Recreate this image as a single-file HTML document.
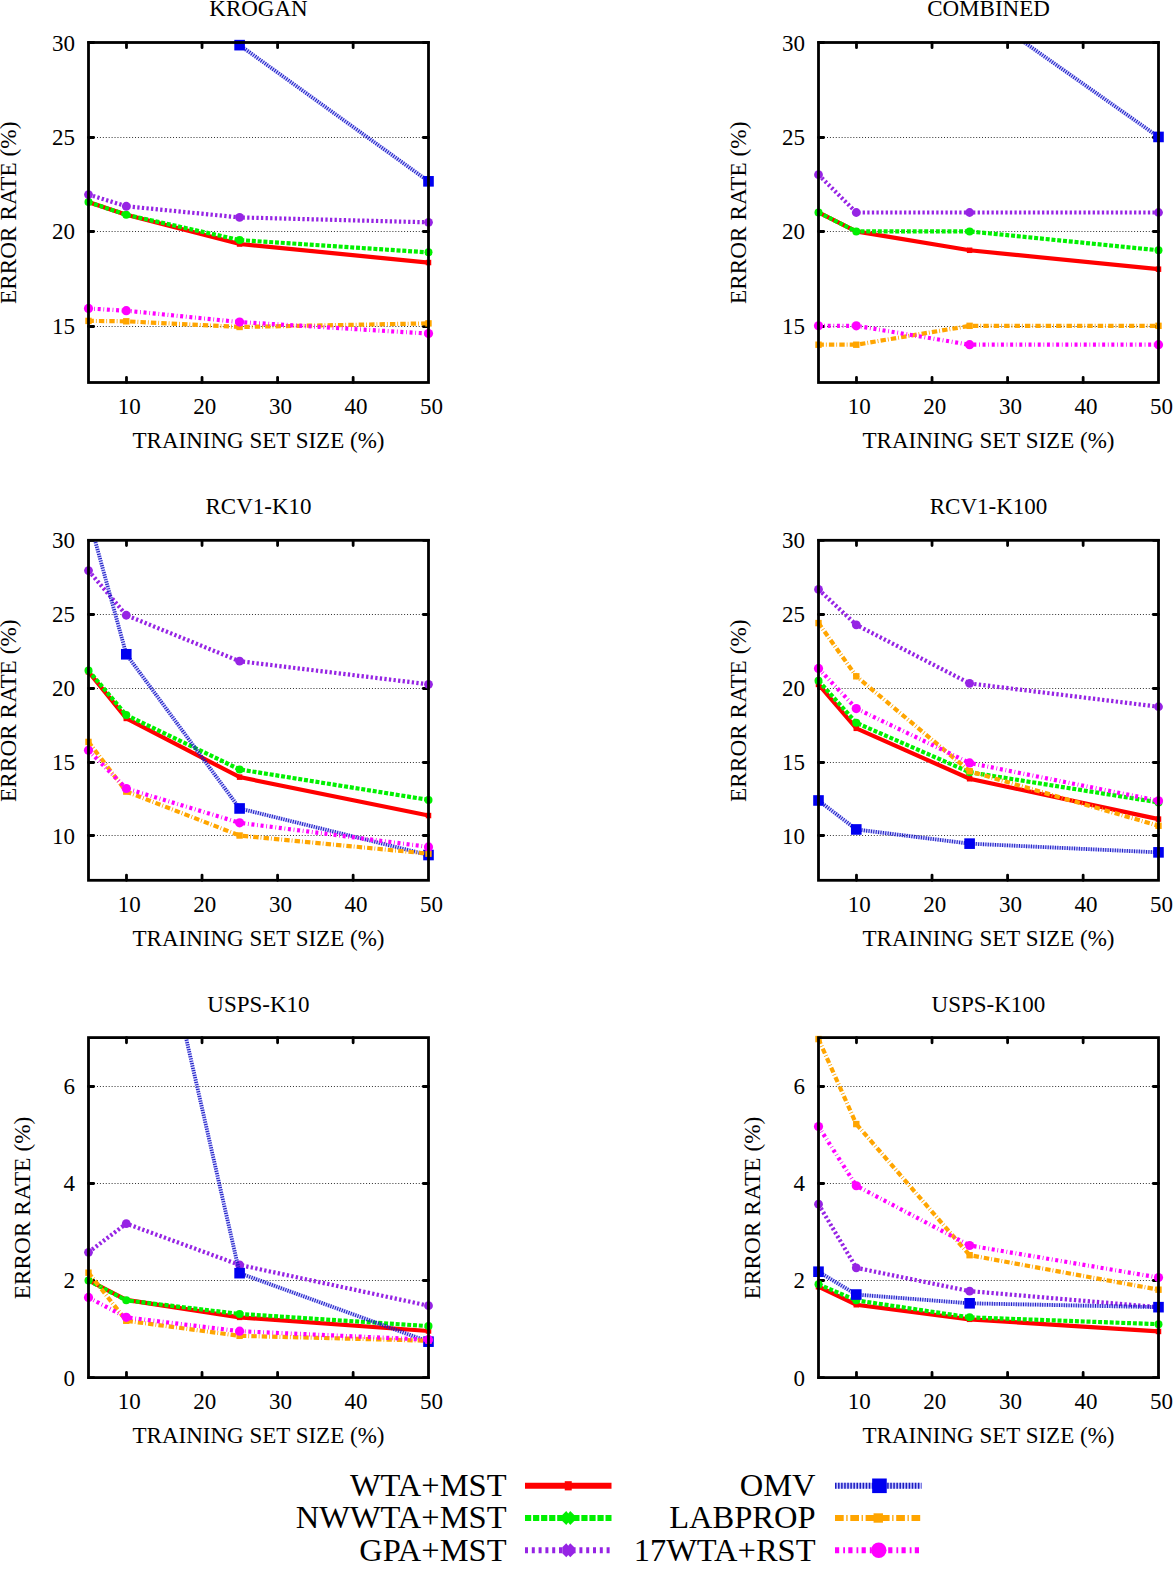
<!DOCTYPE html>
<html><head><meta charset="utf-8"><style>html,body{margin:0;padding:0;background:#fff;width:1175px;height:1572px;overflow:hidden}</style></head><body>
<svg width="1175" height="1572" viewBox="0 0 1175 1572" style="display:block">
<rect width="100%" height="100%" fill="#fff"/>
<defs><clipPath id="c0"><rect x="88.5" y="42.5" width="340" height="340"/></clipPath></defs>
<line x1="88.22" y1="326.5" x2="428.5" y2="326.5" stroke="#333" stroke-width="1" stroke-dasharray="1 1.925"/>
<line x1="88.22" y1="231.5" x2="428.5" y2="231.5" stroke="#333" stroke-width="1" stroke-dasharray="1 1.925"/>
<line x1="88.22" y1="137.5" x2="428.5" y2="137.5" stroke="#333" stroke-width="1" stroke-dasharray="1 1.925"/>
<line x1="88.22" y1="42.5" x2="428.5" y2="42.5" stroke="#333" stroke-width="1" stroke-dasharray="1 1.925"/>
<path d="M126.48 382.5 V377.3 M126.48 42.5 V47.7 M202.03 382.5 V377.3 M202.03 42.5 V47.7 M277.59 382.5 V377.3 M277.59 42.5 V47.7 M353.14 382.5 V377.3 M353.14 42.5 V47.7 M88.5 326.5 H93.7 M428.5 326.5 H423.3 M88.5 231.5 H93.7 M428.5 231.5 H423.3 M88.5 137.5 H93.7 M428.5 137.5 H423.3 M88.5 42.5 H93.7 M428.5 42.5 H423.3" stroke="#000" stroke-width="2.8" stroke-linecap="round" fill="none"/>
<path clip-path="url(#c0)" d="M88.5 202.11 L126.28 214.77 L239.61 244.04 L428.5 262.56" fill="none" stroke="#ff0000" stroke-width="4.2" stroke-linejoin="miter"/>
<rect x="85.75" y="199.36" width="5.5" height="5.5" fill="#ff0000"/>
<rect x="123.53" y="212.02" width="5.5" height="5.5" fill="#ff0000"/>
<rect x="236.86" y="241.29" width="5.5" height="5.5" fill="#ff0000"/>
<rect x="425.75" y="259.81" width="5.5" height="5.5" fill="#ff0000"/>
<path clip-path="url(#c0)" d="M88.5 202.11 L126.28 214.77 L239.61 240.08 L428.5 252.36" fill="none" stroke="#00f000" stroke-width="4.2" stroke-linejoin="miter" stroke-dasharray="4 1.8"/>
<circle cx="88.5" cy="202.11" r="4" fill="#00f000"/>
<circle cx="126.28" cy="214.77" r="4" fill="#00f000"/>
<circle cx="239.61" cy="240.08" r="4" fill="#00f000"/>
<circle cx="428.5" cy="252.36" r="4" fill="#00f000"/>
<path clip-path="url(#c0)" d="M88.5 194.56 L126.28 206.27 L239.61 217.41 L428.5 222.32" fill="none" stroke="#9624e4" stroke-width="4.2" stroke-linejoin="miter" stroke-dasharray="2.3 2.3"/>
<circle cx="88.5" cy="194.56" r="4.4" fill="#9624e4"/>
<circle cx="126.28" cy="206.27" r="4.4" fill="#9624e4"/>
<circle cx="239.61" cy="217.41" r="4.4" fill="#9624e4"/>
<circle cx="428.5" cy="222.32" r="4.4" fill="#9624e4"/>
<path clip-path="url(#c0)" d="M239.61 45.14 L428.5 181.33" fill="none" stroke="#0000ff" stroke-opacity="0.2" stroke-width="3.8000000000000003" stroke-linejoin="miter"/>
<path clip-path="url(#c0)" d="M239.61 45.14 L428.5 181.33" fill="none" stroke="#1c1cc0" stroke-width="3.8000000000000003" stroke-linejoin="miter" stroke-dasharray="1 1.4"/>
<rect x="234.31" y="39.84" width="10.6" height="10.6" fill="#0000f0"/>
<rect x="423.2" y="176.03" width="10.6" height="10.6" fill="#0000f0"/>
<path clip-path="url(#c0)" d="M88.5 320.92 L126.28 321.3 L239.61 326.97 L428.5 323.38" fill="none" stroke="#ffa500" stroke-width="4.2" stroke-linejoin="miter" stroke-dasharray="5.4 2 0.8 2.2"/>
<rect x="85.3" y="317.72" width="6.4" height="6.4" fill="#ffa500"/>
<rect x="123.08" y="318.1" width="6.4" height="6.4" fill="#ffa500"/>
<rect x="236.41" y="323.77" width="6.4" height="6.4" fill="#ffa500"/>
<rect x="425.3" y="320.18" width="6.4" height="6.4" fill="#ffa500"/>
<path clip-path="url(#c0)" d="M88.5 308.46 L126.28 310.72 L239.61 322.06 L428.5 333.58" fill="none" stroke="#ff00ff" stroke-width="4.2" stroke-linejoin="miter" stroke-dasharray="3 2.7 0.8 2.7"/>
<circle cx="88.5" cy="308.46" r="4.6" fill="#ff00ff"/>
<circle cx="126.28" cy="310.72" r="4.6" fill="#ff00ff"/>
<circle cx="239.61" cy="322.06" r="4.6" fill="#ff00ff"/>
<circle cx="428.5" cy="333.58" r="4.6" fill="#ff00ff"/>
<rect x="88.5" y="42.5" width="340" height="340" fill="none" stroke="#000" stroke-width="2.8"/>
<text x="75" y="333.83" text-anchor="end" style="font-family:'Liberation Serif', serif;font-size:23px">15</text>
<text x="75" y="239.39" text-anchor="end" style="font-family:'Liberation Serif', serif;font-size:23px">20</text>
<text x="75" y="144.94" text-anchor="end" style="font-family:'Liberation Serif', serif;font-size:23px">25</text>
<text x="75" y="50.5" text-anchor="end" style="font-family:'Liberation Serif', serif;font-size:23px">30</text>
<text x="129.28" y="414" text-anchor="middle" style="font-family:'Liberation Serif', serif;font-size:23px">10</text>
<text x="204.83" y="414" text-anchor="middle" style="font-family:'Liberation Serif', serif;font-size:23px">20</text>
<text x="280.39" y="414" text-anchor="middle" style="font-family:'Liberation Serif', serif;font-size:23px">30</text>
<text x="355.94" y="414" text-anchor="middle" style="font-family:'Liberation Serif', serif;font-size:23px">40</text>
<text x="431.5" y="414" text-anchor="middle" style="font-family:'Liberation Serif', serif;font-size:23px">50</text>
<text x="258.5" y="447.9" text-anchor="middle" style="font-family:'Liberation Serif', serif;font-size:23px">TRAINING SET SIZE (%)</text>
<text x="258.5" y="16.4" text-anchor="middle" style="font-family:'Liberation Serif', serif;font-size:23px">KROGAN</text>
<text transform="translate(16.1 212.85) rotate(-90)" x="0" y="0" text-anchor="middle" style="font-family:'Liberation Serif', serif;font-size:23.3px">ERROR RATE (%)</text>
<defs><clipPath id="c1"><rect x="818.5" y="42.5" width="340" height="340"/></clipPath></defs>
<line x1="818.23" y1="326.5" x2="1158.5" y2="326.5" stroke="#333" stroke-width="1" stroke-dasharray="1 1.925"/>
<line x1="818.23" y1="231.5" x2="1158.5" y2="231.5" stroke="#333" stroke-width="1" stroke-dasharray="1 1.925"/>
<line x1="818.23" y1="137.5" x2="1158.5" y2="137.5" stroke="#333" stroke-width="1" stroke-dasharray="1 1.925"/>
<line x1="818.23" y1="42.5" x2="1158.5" y2="42.5" stroke="#333" stroke-width="1" stroke-dasharray="1 1.925"/>
<path d="M856.48 382.5 V377.3 M856.48 42.5 V47.7 M932.03 382.5 V377.3 M932.03 42.5 V47.7 M1007.59 382.5 V377.3 M1007.59 42.5 V47.7 M1083.14 382.5 V377.3 M1083.14 42.5 V47.7 M818.5 326.5 H823.7 M1158.5 326.5 H1153.3 M818.5 231.5 H823.7 M1158.5 231.5 H1153.3 M818.5 137.5 H823.7 M1158.5 137.5 H1153.3 M818.5 42.5 H823.7 M1158.5 42.5 H1153.3" stroke="#000" stroke-width="2.8" stroke-linecap="round" fill="none"/>
<path clip-path="url(#c1)" d="M818.5 212.5 L856.28 231.39 L969.61 250.28 L1158.5 269.17" fill="none" stroke="#ff0000" stroke-width="4.2" stroke-linejoin="miter"/>
<rect x="815.75" y="209.75" width="5.5" height="5.5" fill="#ff0000"/>
<rect x="853.53" y="228.64" width="5.5" height="5.5" fill="#ff0000"/>
<rect x="966.86" y="247.53" width="5.5" height="5.5" fill="#ff0000"/>
<rect x="1155.75" y="266.42" width="5.5" height="5.5" fill="#ff0000"/>
<path clip-path="url(#c1)" d="M818.5 212.5 L856.28 231.39 L969.61 231.39 L1158.5 250.28" fill="none" stroke="#00f000" stroke-width="4.2" stroke-linejoin="miter" stroke-dasharray="4 1.8"/>
<circle cx="818.5" cy="212.5" r="4" fill="#00f000"/>
<circle cx="856.28" cy="231.39" r="4" fill="#00f000"/>
<circle cx="969.61" cy="231.39" r="4" fill="#00f000"/>
<circle cx="1158.5" cy="250.28" r="4" fill="#00f000"/>
<path clip-path="url(#c1)" d="M818.5 174.72 L856.28 212.5 L969.61 212.5 L1158.5 212.5" fill="none" stroke="#9624e4" stroke-width="4.2" stroke-linejoin="miter" stroke-dasharray="2.3 2.3"/>
<circle cx="818.5" cy="174.72" r="4.4" fill="#9624e4"/>
<circle cx="856.28" cy="212.5" r="4.4" fill="#9624e4"/>
<circle cx="969.61" cy="212.5" r="4.4" fill="#9624e4"/>
<circle cx="1158.5" cy="212.5" r="4.4" fill="#9624e4"/>
<path clip-path="url(#c1)" d="M969.61 3.78 L1158.5 136.94" fill="none" stroke="#0000ff" stroke-opacity="0.2" stroke-width="3.8000000000000003" stroke-linejoin="miter"/>
<path clip-path="url(#c1)" d="M969.61 3.78 L1158.5 136.94" fill="none" stroke="#1c1cc0" stroke-width="3.8000000000000003" stroke-linejoin="miter" stroke-dasharray="1 1.4"/>
<rect x="1153.2" y="131.64" width="10.6" height="10.6" fill="#0000f0"/>
<path clip-path="url(#c1)" d="M818.5 344.72 L856.28 344.72 L969.61 325.83 L1158.5 325.83" fill="none" stroke="#ffa500" stroke-width="4.2" stroke-linejoin="miter" stroke-dasharray="5.4 2 0.8 2.2"/>
<rect x="815.3" y="341.52" width="6.4" height="6.4" fill="#ffa500"/>
<rect x="853.08" y="341.52" width="6.4" height="6.4" fill="#ffa500"/>
<rect x="966.41" y="322.63" width="6.4" height="6.4" fill="#ffa500"/>
<rect x="1155.3" y="322.63" width="6.4" height="6.4" fill="#ffa500"/>
<path clip-path="url(#c1)" d="M818.5 325.83 L856.28 325.83 L969.61 344.72 L1158.5 344.72" fill="none" stroke="#ff00ff" stroke-width="4.2" stroke-linejoin="miter" stroke-dasharray="3 2.7 0.8 2.7"/>
<circle cx="818.5" cy="325.83" r="4.6" fill="#ff00ff"/>
<circle cx="856.28" cy="325.83" r="4.6" fill="#ff00ff"/>
<circle cx="969.61" cy="344.72" r="4.6" fill="#ff00ff"/>
<circle cx="1158.5" cy="344.72" r="4.6" fill="#ff00ff"/>
<rect x="818.5" y="42.5" width="340" height="340" fill="none" stroke="#000" stroke-width="2.8"/>
<text x="805" y="333.83" text-anchor="end" style="font-family:'Liberation Serif', serif;font-size:23px">15</text>
<text x="805" y="239.39" text-anchor="end" style="font-family:'Liberation Serif', serif;font-size:23px">20</text>
<text x="805" y="144.94" text-anchor="end" style="font-family:'Liberation Serif', serif;font-size:23px">25</text>
<text x="805" y="50.5" text-anchor="end" style="font-family:'Liberation Serif', serif;font-size:23px">30</text>
<text x="859.28" y="414" text-anchor="middle" style="font-family:'Liberation Serif', serif;font-size:23px">10</text>
<text x="934.83" y="414" text-anchor="middle" style="font-family:'Liberation Serif', serif;font-size:23px">20</text>
<text x="1010.39" y="414" text-anchor="middle" style="font-family:'Liberation Serif', serif;font-size:23px">30</text>
<text x="1085.94" y="414" text-anchor="middle" style="font-family:'Liberation Serif', serif;font-size:23px">40</text>
<text x="1161.5" y="414" text-anchor="middle" style="font-family:'Liberation Serif', serif;font-size:23px">50</text>
<text x="988.5" y="447.9" text-anchor="middle" style="font-family:'Liberation Serif', serif;font-size:23px">TRAINING SET SIZE (%)</text>
<text x="988.5" y="16.4" text-anchor="middle" style="font-family:'Liberation Serif', serif;font-size:23px">COMBINED</text>
<text transform="translate(746.1 212.85) rotate(-90)" x="0" y="0" text-anchor="middle" style="font-family:'Liberation Serif', serif;font-size:23.3px">ERROR RATE (%)</text>
<defs><clipPath id="c2"><rect x="88.5" y="540.3" width="340" height="340"/></clipPath></defs>
<line x1="88.22" y1="835.5" x2="428.5" y2="835.5" stroke="#333" stroke-width="1" stroke-dasharray="1 1.925"/>
<line x1="88.22" y1="762.5" x2="428.5" y2="762.5" stroke="#333" stroke-width="1" stroke-dasharray="1 1.925"/>
<line x1="88.22" y1="688.5" x2="428.5" y2="688.5" stroke="#333" stroke-width="1" stroke-dasharray="1 1.925"/>
<line x1="88.22" y1="614.5" x2="428.5" y2="614.5" stroke="#333" stroke-width="1" stroke-dasharray="1 1.925"/>
<line x1="88.22" y1="540.3" x2="428.5" y2="540.3" stroke="#333" stroke-width="1" stroke-dasharray="1 1.925"/>
<path d="M126.48 880.3 V875.1 M126.48 540.3 V545.5 M202.03 880.3 V875.1 M202.03 540.3 V545.5 M277.59 880.3 V875.1 M277.59 540.3 V545.5 M353.14 880.3 V875.1 M353.14 540.3 V545.5 M88.5 835.5 H93.7 M428.5 835.5 H423.3 M88.5 762.5 H93.7 M428.5 762.5 H423.3 M88.5 688.5 H93.7 M428.5 688.5 H423.3 M88.5 614.5 H93.7 M428.5 614.5 H423.3 M88.5 540.3 H93.7 M428.5 540.3 H423.3" stroke="#000" stroke-width="2.8" stroke-linecap="round" fill="none"/>
<path clip-path="url(#c2)" d="M88.5 671.87 L126.28 718.43 L239.61 777.12 L428.5 815.55" fill="none" stroke="#ff0000" stroke-width="4.2" stroke-linejoin="miter"/>
<rect x="85.75" y="669.12" width="5.5" height="5.5" fill="#ff0000"/>
<rect x="123.53" y="715.68" width="5.5" height="5.5" fill="#ff0000"/>
<rect x="236.86" y="774.37" width="5.5" height="5.5" fill="#ff0000"/>
<rect x="425.75" y="812.8" width="5.5" height="5.5" fill="#ff0000"/>
<path clip-path="url(#c2)" d="M88.5 670.39 L126.28 715.03 L239.61 769.43 L428.5 799.88" fill="none" stroke="#00f000" stroke-width="4.2" stroke-linejoin="miter" stroke-dasharray="4 1.8"/>
<circle cx="88.5" cy="670.39" r="4" fill="#00f000"/>
<circle cx="126.28" cy="715.03" r="4" fill="#00f000"/>
<circle cx="239.61" cy="769.43" r="4" fill="#00f000"/>
<circle cx="428.5" cy="799.88" r="4" fill="#00f000"/>
<path clip-path="url(#c2)" d="M88.5 570.6 L126.28 615.25 L239.61 661.22 L428.5 684.28" fill="none" stroke="#9624e4" stroke-width="4.2" stroke-linejoin="miter" stroke-dasharray="2.3 2.3"/>
<circle cx="88.5" cy="570.6" r="4.4" fill="#9624e4"/>
<circle cx="126.28" cy="615.25" r="4.4" fill="#9624e4"/>
<circle cx="239.61" cy="661.22" r="4.4" fill="#9624e4"/>
<circle cx="428.5" cy="684.28" r="4.4" fill="#9624e4"/>
<path clip-path="url(#c2)" d="M88.5 516.65 L126.28 654.27 L239.61 808.46 L428.5 855.02" fill="none" stroke="#0000ff" stroke-opacity="0.2" stroke-width="3.8000000000000003" stroke-linejoin="miter"/>
<path clip-path="url(#c2)" d="M88.5 516.65 L126.28 654.27 L239.61 808.46 L428.5 855.02" fill="none" stroke="#1c1cc0" stroke-width="3.8000000000000003" stroke-linejoin="miter" stroke-dasharray="1 1.4"/>
<rect x="120.98" y="648.97" width="10.6" height="10.6" fill="#0000f0"/>
<rect x="234.31" y="803.16" width="10.6" height="10.6" fill="#0000f0"/>
<rect x="423.2" y="849.72" width="10.6" height="10.6" fill="#0000f0"/>
<path clip-path="url(#c2)" d="M88.5 741.93 L126.28 791.6 L239.61 835.51 L428.5 853.69" fill="none" stroke="#ffa500" stroke-width="4.2" stroke-linejoin="miter" stroke-dasharray="5.4 2 0.8 2.2"/>
<rect x="85.3" y="738.73" width="6.4" height="6.4" fill="#ffa500"/>
<rect x="123.08" y="788.4" width="6.4" height="6.4" fill="#ffa500"/>
<rect x="236.41" y="832.31" width="6.4" height="6.4" fill="#ffa500"/>
<rect x="425.3" y="850.49" width="6.4" height="6.4" fill="#ffa500"/>
<path clip-path="url(#c2)" d="M88.5 750.36 L126.28 788.5 L239.61 822.8 L428.5 846.89" fill="none" stroke="#ff00ff" stroke-width="4.2" stroke-linejoin="miter" stroke-dasharray="3 2.7 0.8 2.7"/>
<circle cx="88.5" cy="750.36" r="4.6" fill="#ff00ff"/>
<circle cx="126.28" cy="788.5" r="4.6" fill="#ff00ff"/>
<circle cx="239.61" cy="822.8" r="4.6" fill="#ff00ff"/>
<circle cx="428.5" cy="846.89" r="4.6" fill="#ff00ff"/>
<rect x="88.5" y="540.3" width="340" height="340" fill="none" stroke="#000" stroke-width="2.8"/>
<text x="75" y="843.95" text-anchor="end" style="font-family:'Liberation Serif', serif;font-size:23px">10</text>
<text x="75" y="770.04" text-anchor="end" style="font-family:'Liberation Serif', serif;font-size:23px">15</text>
<text x="75" y="696.13" text-anchor="end" style="font-family:'Liberation Serif', serif;font-size:23px">20</text>
<text x="75" y="622.21" text-anchor="end" style="font-family:'Liberation Serif', serif;font-size:23px">25</text>
<text x="75" y="548.3" text-anchor="end" style="font-family:'Liberation Serif', serif;font-size:23px">30</text>
<text x="129.28" y="911.8" text-anchor="middle" style="font-family:'Liberation Serif', serif;font-size:23px">10</text>
<text x="204.83" y="911.8" text-anchor="middle" style="font-family:'Liberation Serif', serif;font-size:23px">20</text>
<text x="280.39" y="911.8" text-anchor="middle" style="font-family:'Liberation Serif', serif;font-size:23px">30</text>
<text x="355.94" y="911.8" text-anchor="middle" style="font-family:'Liberation Serif', serif;font-size:23px">40</text>
<text x="431.5" y="911.8" text-anchor="middle" style="font-family:'Liberation Serif', serif;font-size:23px">50</text>
<text x="258.5" y="945.7" text-anchor="middle" style="font-family:'Liberation Serif', serif;font-size:23px">TRAINING SET SIZE (%)</text>
<text x="258.5" y="514.2" text-anchor="middle" style="font-family:'Liberation Serif', serif;font-size:23px">RCV1-K10</text>
<text transform="translate(16.1 710.65) rotate(-90)" x="0" y="0" text-anchor="middle" style="font-family:'Liberation Serif', serif;font-size:23.3px">ERROR RATE (%)</text>
<defs><clipPath id="c3"><rect x="818.5" y="540.3" width="340" height="340"/></clipPath></defs>
<line x1="818.23" y1="835.5" x2="1158.5" y2="835.5" stroke="#333" stroke-width="1" stroke-dasharray="1 1.925"/>
<line x1="818.23" y1="762.5" x2="1158.5" y2="762.5" stroke="#333" stroke-width="1" stroke-dasharray="1 1.925"/>
<line x1="818.23" y1="688.5" x2="1158.5" y2="688.5" stroke="#333" stroke-width="1" stroke-dasharray="1 1.925"/>
<line x1="818.23" y1="614.5" x2="1158.5" y2="614.5" stroke="#333" stroke-width="1" stroke-dasharray="1 1.925"/>
<line x1="818.23" y1="540.3" x2="1158.5" y2="540.3" stroke="#333" stroke-width="1" stroke-dasharray="1 1.925"/>
<path d="M856.48 880.3 V875.1 M856.48 540.3 V545.5 M932.03 880.3 V875.1 M932.03 540.3 V545.5 M1007.59 880.3 V875.1 M1007.59 540.3 V545.5 M1083.14 880.3 V875.1 M1083.14 540.3 V545.5 M818.5 835.5 H823.7 M1158.5 835.5 H1153.3 M818.5 762.5 H823.7 M1158.5 762.5 H1153.3 M818.5 688.5 H823.7 M1158.5 688.5 H1153.3 M818.5 614.5 H823.7 M1158.5 614.5 H1153.3 M818.5 540.3 H823.7 M1158.5 540.3 H1153.3" stroke="#000" stroke-width="2.8" stroke-linecap="round" fill="none"/>
<path clip-path="url(#c3)" d="M818.5 684.43 L856.28 728.33 L969.61 778.74 L1158.5 819.1" fill="none" stroke="#ff0000" stroke-width="4.2" stroke-linejoin="miter"/>
<rect x="815.75" y="681.68" width="5.5" height="5.5" fill="#ff0000"/>
<rect x="853.53" y="725.58" width="5.5" height="5.5" fill="#ff0000"/>
<rect x="966.86" y="775.99" width="5.5" height="5.5" fill="#ff0000"/>
<rect x="1155.75" y="816.35" width="5.5" height="5.5" fill="#ff0000"/>
<path clip-path="url(#c3)" d="M818.5 680.73 L856.28 722.87 L969.61 772.24 L1158.5 802.4" fill="none" stroke="#00f000" stroke-width="4.2" stroke-linejoin="miter" stroke-dasharray="4 1.8"/>
<circle cx="818.5" cy="680.73" r="4" fill="#00f000"/>
<circle cx="856.28" cy="722.87" r="4" fill="#00f000"/>
<circle cx="969.61" cy="772.24" r="4" fill="#00f000"/>
<circle cx="1158.5" cy="802.4" r="4" fill="#00f000"/>
<path clip-path="url(#c3)" d="M818.5 589.38 L856.28 624.86 L969.61 683.4 L1158.5 706.75" fill="none" stroke="#9624e4" stroke-width="4.2" stroke-linejoin="miter" stroke-dasharray="2.3 2.3"/>
<circle cx="818.5" cy="589.38" r="4.4" fill="#9624e4"/>
<circle cx="856.28" cy="624.86" r="4.4" fill="#9624e4"/>
<circle cx="969.61" cy="683.4" r="4.4" fill="#9624e4"/>
<circle cx="1158.5" cy="706.75" r="4.4" fill="#9624e4"/>
<path clip-path="url(#c3)" d="M818.5 800.47 L856.28 829.45 L969.61 843.64 L1158.5 852.36" fill="none" stroke="#0000ff" stroke-opacity="0.2" stroke-width="3.8000000000000003" stroke-linejoin="miter"/>
<path clip-path="url(#c3)" d="M818.5 800.47 L856.28 829.45 L969.61 843.64 L1158.5 852.36" fill="none" stroke="#1c1cc0" stroke-width="3.8000000000000003" stroke-linejoin="miter" stroke-dasharray="1 1.4"/>
<rect x="813.2" y="795.17" width="10.6" height="10.6" fill="#0000f0"/>
<rect x="850.98" y="824.15" width="10.6" height="10.6" fill="#0000f0"/>
<rect x="964.31" y="838.34" width="10.6" height="10.6" fill="#0000f0"/>
<rect x="1153.2" y="847.06" width="10.6" height="10.6" fill="#0000f0"/>
<path clip-path="url(#c3)" d="M818.5 623.08 L856.28 676.3 L969.61 771.2 L1158.5 825.75" fill="none" stroke="#ffa500" stroke-width="4.2" stroke-linejoin="miter" stroke-dasharray="5.4 2 0.8 2.2"/>
<rect x="815.3" y="619.88" width="6.4" height="6.4" fill="#ffa500"/>
<rect x="853.08" y="673.1" width="6.4" height="6.4" fill="#ffa500"/>
<rect x="966.41" y="768" width="6.4" height="6.4" fill="#ffa500"/>
<rect x="1155.3" y="822.55" width="6.4" height="6.4" fill="#ffa500"/>
<path clip-path="url(#c3)" d="M818.5 668.47 L856.28 708.53 L969.61 762.93 L1158.5 800.77" fill="none" stroke="#ff00ff" stroke-width="4.2" stroke-linejoin="miter" stroke-dasharray="3 2.7 0.8 2.7"/>
<circle cx="818.5" cy="668.47" r="4.6" fill="#ff00ff"/>
<circle cx="856.28" cy="708.53" r="4.6" fill="#ff00ff"/>
<circle cx="969.61" cy="762.93" r="4.6" fill="#ff00ff"/>
<circle cx="1158.5" cy="800.77" r="4.6" fill="#ff00ff"/>
<rect x="818.5" y="540.3" width="340" height="340" fill="none" stroke="#000" stroke-width="2.8"/>
<text x="805" y="843.95" text-anchor="end" style="font-family:'Liberation Serif', serif;font-size:23px">10</text>
<text x="805" y="770.04" text-anchor="end" style="font-family:'Liberation Serif', serif;font-size:23px">15</text>
<text x="805" y="696.13" text-anchor="end" style="font-family:'Liberation Serif', serif;font-size:23px">20</text>
<text x="805" y="622.21" text-anchor="end" style="font-family:'Liberation Serif', serif;font-size:23px">25</text>
<text x="805" y="548.3" text-anchor="end" style="font-family:'Liberation Serif', serif;font-size:23px">30</text>
<text x="859.28" y="911.8" text-anchor="middle" style="font-family:'Liberation Serif', serif;font-size:23px">10</text>
<text x="934.83" y="911.8" text-anchor="middle" style="font-family:'Liberation Serif', serif;font-size:23px">20</text>
<text x="1010.39" y="911.8" text-anchor="middle" style="font-family:'Liberation Serif', serif;font-size:23px">30</text>
<text x="1085.94" y="911.8" text-anchor="middle" style="font-family:'Liberation Serif', serif;font-size:23px">40</text>
<text x="1161.5" y="911.8" text-anchor="middle" style="font-family:'Liberation Serif', serif;font-size:23px">50</text>
<text x="988.5" y="945.7" text-anchor="middle" style="font-family:'Liberation Serif', serif;font-size:23px">TRAINING SET SIZE (%)</text>
<text x="988.5" y="514.2" text-anchor="middle" style="font-family:'Liberation Serif', serif;font-size:23px">RCV1-K100</text>
<text transform="translate(746.1 710.65) rotate(-90)" x="0" y="0" text-anchor="middle" style="font-family:'Liberation Serif', serif;font-size:23.3px">ERROR RATE (%)</text>
<defs><clipPath id="c4"><rect x="88.5" y="1037.6" width="340" height="340"/></clipPath></defs>
<line x1="88.22" y1="1377.6" x2="428.5" y2="1377.6" stroke="#333" stroke-width="1" stroke-dasharray="1 1.925"/>
<line x1="88.22" y1="1280.5" x2="428.5" y2="1280.5" stroke="#333" stroke-width="1" stroke-dasharray="1 1.925"/>
<line x1="88.22" y1="1183.5" x2="428.5" y2="1183.5" stroke="#333" stroke-width="1" stroke-dasharray="1 1.925"/>
<line x1="88.22" y1="1086.5" x2="428.5" y2="1086.5" stroke="#333" stroke-width="1" stroke-dasharray="1 1.925"/>
<path d="M126.48 1377.6 V1372.4 M126.48 1037.6 V1042.8 M202.03 1377.6 V1372.4 M202.03 1037.6 V1042.8 M277.59 1377.6 V1372.4 M277.59 1037.6 V1042.8 M353.14 1377.6 V1372.4 M353.14 1037.6 V1042.8 M88.5 1377.6 H93.7 M428.5 1377.6 H423.3 M88.5 1280.5 H93.7 M428.5 1280.5 H423.3 M88.5 1183.5 H93.7 M428.5 1183.5 H423.3 M88.5 1086.5 H93.7 M428.5 1086.5 H423.3" stroke="#000" stroke-width="2.8" stroke-linecap="round" fill="none"/>
<path clip-path="url(#c4)" d="M88.5 1280.46 L126.28 1299.89 L239.61 1317.37 L428.5 1330.97" fill="none" stroke="#ff0000" stroke-width="4.2" stroke-linejoin="miter"/>
<rect x="85.75" y="1277.71" width="5.5" height="5.5" fill="#ff0000"/>
<rect x="123.53" y="1297.14" width="5.5" height="5.5" fill="#ff0000"/>
<rect x="236.86" y="1314.62" width="5.5" height="5.5" fill="#ff0000"/>
<rect x="425.75" y="1328.22" width="5.5" height="5.5" fill="#ff0000"/>
<path clip-path="url(#c4)" d="M88.5 1280.46 L126.28 1300.37 L239.61 1313.97 L428.5 1326.11" fill="none" stroke="#00f000" stroke-width="4.2" stroke-linejoin="miter" stroke-dasharray="4 1.8"/>
<circle cx="88.5" cy="1280.46" r="4" fill="#00f000"/>
<circle cx="126.28" cy="1300.37" r="4" fill="#00f000"/>
<circle cx="239.61" cy="1313.97" r="4" fill="#00f000"/>
<circle cx="428.5" cy="1326.11" r="4" fill="#00f000"/>
<path clip-path="url(#c4)" d="M88.5 1252.29 L126.28 1223.63 L239.61 1264.91 L428.5 1305.71" fill="none" stroke="#9624e4" stroke-width="4.2" stroke-linejoin="miter" stroke-dasharray="2.3 2.3"/>
<circle cx="88.5" cy="1252.29" r="4.4" fill="#9624e4"/>
<circle cx="126.28" cy="1223.63" r="4.4" fill="#9624e4"/>
<circle cx="239.61" cy="1264.91" r="4.4" fill="#9624e4"/>
<circle cx="428.5" cy="1305.71" r="4.4" fill="#9624e4"/>
<path clip-path="url(#c4)" d="M126.28 775.31 L239.61 1273.17 L428.5 1341.66" fill="none" stroke="#0000ff" stroke-opacity="0.2" stroke-width="3.8000000000000003" stroke-linejoin="miter"/>
<path clip-path="url(#c4)" d="M126.28 775.31 L239.61 1273.17 L428.5 1341.66" fill="none" stroke="#1c1cc0" stroke-width="3.8000000000000003" stroke-linejoin="miter" stroke-dasharray="1 1.4"/>
<rect x="234.31" y="1267.87" width="10.6" height="10.6" fill="#0000f0"/>
<rect x="423.2" y="1336.36" width="10.6" height="10.6" fill="#0000f0"/>
<path clip-path="url(#c4)" d="M88.5 1272.69 L126.28 1320.77 L239.61 1335.83 L428.5 1340.69" fill="none" stroke="#ffa500" stroke-width="4.2" stroke-linejoin="miter" stroke-dasharray="5.4 2 0.8 2.2"/>
<rect x="85.3" y="1269.49" width="6.4" height="6.4" fill="#ffa500"/>
<rect x="123.08" y="1317.57" width="6.4" height="6.4" fill="#ffa500"/>
<rect x="236.41" y="1332.63" width="6.4" height="6.4" fill="#ffa500"/>
<rect x="425.3" y="1337.49" width="6.4" height="6.4" fill="#ffa500"/>
<path clip-path="url(#c4)" d="M88.5 1297.46 L126.28 1317.37 L239.61 1331.21 L428.5 1339.71" fill="none" stroke="#ff00ff" stroke-width="4.2" stroke-linejoin="miter" stroke-dasharray="3 2.7 0.8 2.7"/>
<circle cx="88.5" cy="1297.46" r="4.6" fill="#ff00ff"/>
<circle cx="126.28" cy="1317.37" r="4.6" fill="#ff00ff"/>
<circle cx="239.61" cy="1331.21" r="4.6" fill="#ff00ff"/>
<circle cx="428.5" cy="1339.71" r="4.6" fill="#ff00ff"/>
<rect x="88.5" y="1037.6" width="340" height="340" fill="none" stroke="#000" stroke-width="2.8"/>
<text x="75" y="1385.6" text-anchor="end" style="font-family:'Liberation Serif', serif;font-size:23px">0</text>
<text x="75" y="1288.46" text-anchor="end" style="font-family:'Liberation Serif', serif;font-size:23px">2</text>
<text x="75" y="1191.31" text-anchor="end" style="font-family:'Liberation Serif', serif;font-size:23px">4</text>
<text x="75" y="1094.17" text-anchor="end" style="font-family:'Liberation Serif', serif;font-size:23px">6</text>
<text x="129.28" y="1409.1" text-anchor="middle" style="font-family:'Liberation Serif', serif;font-size:23px">10</text>
<text x="204.83" y="1409.1" text-anchor="middle" style="font-family:'Liberation Serif', serif;font-size:23px">20</text>
<text x="280.39" y="1409.1" text-anchor="middle" style="font-family:'Liberation Serif', serif;font-size:23px">30</text>
<text x="355.94" y="1409.1" text-anchor="middle" style="font-family:'Liberation Serif', serif;font-size:23px">40</text>
<text x="431.5" y="1409.1" text-anchor="middle" style="font-family:'Liberation Serif', serif;font-size:23px">50</text>
<text x="258.5" y="1443" text-anchor="middle" style="font-family:'Liberation Serif', serif;font-size:23px">TRAINING SET SIZE (%)</text>
<text x="258.5" y="1011.5" text-anchor="middle" style="font-family:'Liberation Serif', serif;font-size:23px">USPS-K10</text>
<text transform="translate(29.7 1207.95) rotate(-90)" x="0" y="0" text-anchor="middle" style="font-family:'Liberation Serif', serif;font-size:23.3px">ERROR RATE (%)</text>
<defs><clipPath id="c5"><rect x="818.5" y="1037.6" width="340" height="340"/></clipPath></defs>
<line x1="818.23" y1="1377.6" x2="1158.5" y2="1377.6" stroke="#333" stroke-width="1" stroke-dasharray="1 1.925"/>
<line x1="818.23" y1="1280.5" x2="1158.5" y2="1280.5" stroke="#333" stroke-width="1" stroke-dasharray="1 1.925"/>
<line x1="818.23" y1="1183.5" x2="1158.5" y2="1183.5" stroke="#333" stroke-width="1" stroke-dasharray="1 1.925"/>
<line x1="818.23" y1="1086.5" x2="1158.5" y2="1086.5" stroke="#333" stroke-width="1" stroke-dasharray="1 1.925"/>
<path d="M856.48 1377.6 V1372.4 M856.48 1037.6 V1042.8 M932.03 1377.6 V1372.4 M932.03 1037.6 V1042.8 M1007.59 1377.6 V1372.4 M1007.59 1037.6 V1042.8 M1083.14 1377.6 V1372.4 M1083.14 1037.6 V1042.8 M818.5 1377.6 H823.7 M1158.5 1377.6 H1153.3 M818.5 1280.5 H823.7 M1158.5 1280.5 H1153.3 M818.5 1183.5 H823.7 M1158.5 1183.5 H1153.3 M818.5 1086.5 H823.7 M1158.5 1086.5 H1153.3" stroke="#000" stroke-width="2.8" stroke-linecap="round" fill="none"/>
<path clip-path="url(#c5)" d="M818.5 1286.77 L856.28 1304.74 L969.61 1319.31 L1158.5 1331.46" fill="none" stroke="#ff0000" stroke-width="4.2" stroke-linejoin="miter"/>
<rect x="815.75" y="1284.02" width="5.5" height="5.5" fill="#ff0000"/>
<rect x="853.53" y="1301.99" width="5.5" height="5.5" fill="#ff0000"/>
<rect x="966.86" y="1316.56" width="5.5" height="5.5" fill="#ff0000"/>
<rect x="1155.75" y="1328.71" width="5.5" height="5.5" fill="#ff0000"/>
<path clip-path="url(#c5)" d="M818.5 1284.34 L856.28 1300.37 L969.61 1317.37 L1158.5 1324.17" fill="none" stroke="#00f000" stroke-width="4.2" stroke-linejoin="miter" stroke-dasharray="4 1.8"/>
<circle cx="818.5" cy="1284.34" r="4" fill="#00f000"/>
<circle cx="856.28" cy="1300.37" r="4" fill="#00f000"/>
<circle cx="969.61" cy="1317.37" r="4" fill="#00f000"/>
<circle cx="1158.5" cy="1324.17" r="4" fill="#00f000"/>
<path clip-path="url(#c5)" d="M818.5 1204.2 L856.28 1267.83 L969.61 1291.14 L1158.5 1307.17" fill="none" stroke="#9624e4" stroke-width="4.2" stroke-linejoin="miter" stroke-dasharray="2.3 2.3"/>
<circle cx="818.5" cy="1204.2" r="4.4" fill="#9624e4"/>
<circle cx="856.28" cy="1267.83" r="4.4" fill="#9624e4"/>
<circle cx="969.61" cy="1291.14" r="4.4" fill="#9624e4"/>
<circle cx="1158.5" cy="1307.17" r="4.4" fill="#9624e4"/>
<path clip-path="url(#c5)" d="M818.5 1271.71 L856.28 1294.54 L969.61 1303.29 L1158.5 1307.17" fill="none" stroke="#0000ff" stroke-opacity="0.2" stroke-width="3.8000000000000003" stroke-linejoin="miter"/>
<path clip-path="url(#c5)" d="M818.5 1271.71 L856.28 1294.54 L969.61 1303.29 L1158.5 1307.17" fill="none" stroke="#1c1cc0" stroke-width="3.8000000000000003" stroke-linejoin="miter" stroke-dasharray="1 1.4"/>
<rect x="813.2" y="1266.41" width="10.6" height="10.6" fill="#0000f0"/>
<rect x="850.98" y="1289.24" width="10.6" height="10.6" fill="#0000f0"/>
<rect x="964.31" y="1297.99" width="10.6" height="10.6" fill="#0000f0"/>
<rect x="1153.2" y="1301.87" width="10.6" height="10.6" fill="#0000f0"/>
<path clip-path="url(#c5)" d="M818.5 1039.06 L856.28 1124.06 L969.61 1255.2 L1158.5 1289.69" fill="none" stroke="#ffa500" stroke-width="4.2" stroke-linejoin="miter" stroke-dasharray="5.4 2 0.8 2.2"/>
<rect x="815.3" y="1035.86" width="6.4" height="6.4" fill="#ffa500"/>
<rect x="853.08" y="1120.86" width="6.4" height="6.4" fill="#ffa500"/>
<rect x="966.41" y="1252" width="6.4" height="6.4" fill="#ffa500"/>
<rect x="1155.3" y="1286.49" width="6.4" height="6.4" fill="#ffa500"/>
<path clip-path="url(#c5)" d="M818.5 1126.49 L856.28 1185.74 L969.61 1245.49 L1158.5 1277.54" fill="none" stroke="#ff00ff" stroke-width="4.2" stroke-linejoin="miter" stroke-dasharray="3 2.7 0.8 2.7"/>
<circle cx="818.5" cy="1126.49" r="4.6" fill="#ff00ff"/>
<circle cx="856.28" cy="1185.74" r="4.6" fill="#ff00ff"/>
<circle cx="969.61" cy="1245.49" r="4.6" fill="#ff00ff"/>
<circle cx="1158.5" cy="1277.54" r="4.6" fill="#ff00ff"/>
<rect x="818.5" y="1037.6" width="340" height="340" fill="none" stroke="#000" stroke-width="2.8"/>
<text x="805" y="1385.6" text-anchor="end" style="font-family:'Liberation Serif', serif;font-size:23px">0</text>
<text x="805" y="1288.46" text-anchor="end" style="font-family:'Liberation Serif', serif;font-size:23px">2</text>
<text x="805" y="1191.31" text-anchor="end" style="font-family:'Liberation Serif', serif;font-size:23px">4</text>
<text x="805" y="1094.17" text-anchor="end" style="font-family:'Liberation Serif', serif;font-size:23px">6</text>
<text x="859.28" y="1409.1" text-anchor="middle" style="font-family:'Liberation Serif', serif;font-size:23px">10</text>
<text x="934.83" y="1409.1" text-anchor="middle" style="font-family:'Liberation Serif', serif;font-size:23px">20</text>
<text x="1010.39" y="1409.1" text-anchor="middle" style="font-family:'Liberation Serif', serif;font-size:23px">30</text>
<text x="1085.94" y="1409.1" text-anchor="middle" style="font-family:'Liberation Serif', serif;font-size:23px">40</text>
<text x="1161.5" y="1409.1" text-anchor="middle" style="font-family:'Liberation Serif', serif;font-size:23px">50</text>
<text x="988.5" y="1443" text-anchor="middle" style="font-family:'Liberation Serif', serif;font-size:23px">TRAINING SET SIZE (%)</text>
<text x="988.5" y="1011.5" text-anchor="middle" style="font-family:'Liberation Serif', serif;font-size:23px">USPS-K100</text>
<text transform="translate(759.7 1207.95) rotate(-90)" x="0" y="0" text-anchor="middle" style="font-family:'Liberation Serif', serif;font-size:23.3px">ERROR RATE (%)</text>
<text x="506.5" y="1496.1" text-anchor="end" style="font-family:'Liberation Serif', serif;font-size:32.5px">WTA+MST</text>
<line x1="525" y1="1485.8" x2="611.5" y2="1485.8" stroke="#ff0000" stroke-width="6"/>
<rect x="564.75" y="1481.2" width="7" height="9.2" fill="#ff0000"/>
<text x="506.5" y="1528.3" text-anchor="end" style="font-family:'Liberation Serif', serif;font-size:32.5px">NWWTA+MST</text>
<line x1="525" y1="1518" x2="611.5" y2="1518" stroke="#00f000" stroke-width="6" stroke-dasharray="6.2 1.85"/>
<path d="M562.25 1515 L566.25 1511 L568.25 1513.4 L570.25 1511 L574.25 1515 L574.25 1521 L570.25 1525 L568.25 1522.6 L566.25 1525 L562.25 1521Z" fill="#00f000"/>
<text x="506.5" y="1560.6" text-anchor="end" style="font-family:'Liberation Serif', serif;font-size:32.5px">GPA+MST</text>
<line x1="525" y1="1550.3" x2="611.5" y2="1550.3" stroke="#9624e4" stroke-width="6" stroke-dasharray="3 3.8"/>
<path d="M562.25 1547.3 L566.25 1543.3 L568.25 1545.7 L570.25 1543.3 L574.25 1547.3 L574.25 1553.3 L570.25 1557.3 L568.25 1554.9 L566.25 1557.3 L562.25 1553.3Z" fill="#9624e4"/>
<text x="815.5" y="1496.1" text-anchor="end" style="font-family:'Liberation Serif', serif;font-size:32.5px">OMV</text>
<line x1="835" y1="1485.8" x2="921.5" y2="1485.8" stroke="#0000ff" stroke-opacity="0.22" stroke-width="6"/>
<line x1="835" y1="1485.8" x2="921.5" y2="1485.8" stroke="#1c1cc0" stroke-width="6" stroke-dasharray="1.5 1.57"/>
<rect x="872.15" y="1478.5" width="14.6" height="14.6" fill="#0000f0"/>
<text x="815.5" y="1528.3" text-anchor="end" style="font-family:'Liberation Serif', serif;font-size:32.5px">LABPROP</text>
<line x1="835" y1="1518" x2="921.5" y2="1518" stroke="#ffa500" stroke-width="6" stroke-dasharray="8.7 2.6 1.3 2.7"/>
<rect x="873.55" y="1513.3" width="9.4" height="9.4" fill="#ffa500"/>
<text x="815.5" y="1560.6" text-anchor="end" style="font-family:'Liberation Serif', serif;font-size:32.5px">17WTA+RST</text>
<line x1="835" y1="1550.3" x2="921.5" y2="1550.3" stroke="#ff00ff" stroke-width="6" stroke-dasharray="4.2 4 1.8 3.3"/>
<circle cx="878.75" cy="1550.3" r="7.75" fill="#ff00ff"/>
</svg>
</body></html>
